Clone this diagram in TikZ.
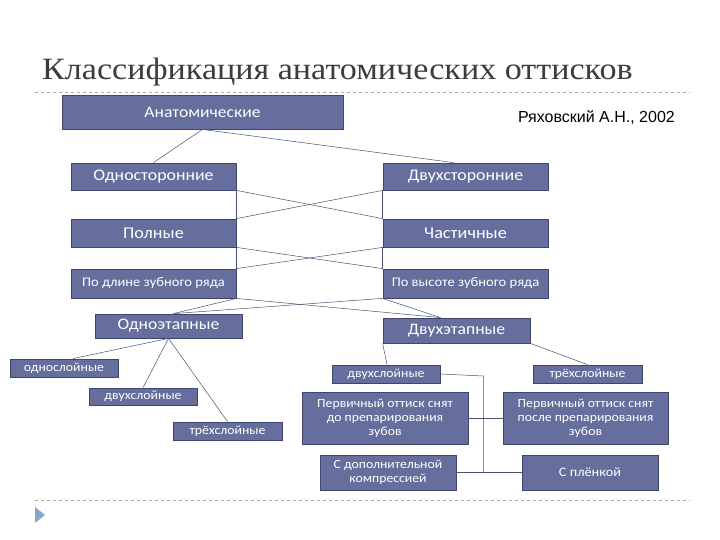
\documentclass[tikz,border=0pt]{standalone}
\usepackage{fontspec}
\setmainfont[FakeStretch=1.1]{Carlito}
\newfontfamily\titlefont[FakeStretch=1.1]{Liberation Serif}
\newfontfamily\authfont{Liberation Sans}
\usetikzlibrary{calc}
\definecolor{boxfill}{HTML}{656E9C}
\definecolor{boxline}{HTML}{3E4670}
\definecolor{linkgray}{HTML}{4A5070}
\definecolor{rulegray}{HTML}{A8A8A8}
\definecolor{titlegray}{HTML}{3C3C3C}
\definecolor{bullet}{HTML}{86A8CC}
\newcommand*{\fs}[1]{\fontsize{#1}{#1}\selectfont}
\tikzset{box/.style={draw=boxline,line width=0.8pt,fill=boxfill,text=white,
    inner sep=1pt,align=center,font=\fontsize{12.5}{14}\selectfont},
  link/.style={draw=linkgray,line width=0.5pt},
  rule/.style={draw=rulegray,dashed,line width=0.6pt}}

\begin{document}
\begin{tikzpicture}[x=1pt,y=-1pt]
\useasboundingbox (0,0) rectangle (720,540);

% Title and rules
\node[anchor=base west,inner sep=0pt,text=titlegray,
  font=\titlefont\fs{31}] (title) at (42,80)
  {Классификация анатомических оттисков};
\coordinate (R1) at (35,92);
\coordinate (R2) at (690,92);
\coordinate (R3) at (35,500);
\coordinate (R4) at (690,500);
\draw[rule] (R1) -- (R2);
\draw[rule] (R3) -- (R4);
\fill[bullet] (35,507) -- (45,515) -- (35,523) -- cycle;

\node[anchor=base east,inner sep=0pt,
  font=\authfont\fs{16}] (author) at (675,123)
  {Ряховский А.Н., 2002};

% Upper levels
\node[box,minimum width=281pt,minimum height=34pt,
  font=\fs{16}] (anat) at (202.5,112) {Анатомические};
\node[box,minimum width=165pt,minimum height=27pt,
  font=\fs{16.2}] (odnost) at (153.5,176.5) {Односторонние};
\node[box,minimum width=165pt,minimum height=27pt,
  font=\fs{16.2}] (dvust) at (465.5,176.5) {Двухсторонние};
\node[box,minimum width=165pt,minimum height=28pt,
  font=\fs{16.5}] (poln) at (153.5,233) {Полные};
\node[box,minimum width=165pt,minimum height=28pt,
  font=\fs{16.5}] (chast) at (465.5,233) {Частичные};
\node[box,minimum width=165pt,minimum height=29pt,
  font=\fs{13.2}] (podl) at (153.5,283.5) {По длине зубного ряда};
\node[box,minimum width=165pt,minimum height=29pt,
  font=\fs{13.2}] (podv) at (465.5,283.5) {По высоте зубного ряда};
\node[box,minimum width=147pt,minimum height=24pt,
  font=\fs{16}] (odnoet) at (168.5,326) {Одноэтапные};
\node[box,minimum width=147pt,minimum height=25pt,
  font=\fs{16}] (dvuet) at (456.5,330.5) {Двухэтапные};

% One-stage branch
\node[box,minimum width=108pt,minimum height=18pt] (odnosl) at (64,368)
  {однослойные};
\node[box,minimum width=108pt,minimum height=17pt] (dvusl) at (143,396.5)
  {двухслойные};
\node[box,minimum width=109pt,minimum height=18pt] (trehsl) at (227.5,431)
  {трёхслойные};

% Two-stage branch
\node[box,minimum width=108pt,minimum height=18pt] (dvuslB) at (386,374)
  {двухслойные};
\node[box,minimum width=109pt,minimum height=18pt] (trehslB) at (587.5,374)
  {трёхслойные};
\node[box,minimum width=166pt,minimum height=52pt] (pervdo) at (385,418)
  {Первичный оттиск снят\\до препарирования\\зубов};
\node[box,minimum width=165pt,minimum height=52pt] (pervposle) at (585.5,418)
  {Первичный оттиск снят\\после препарирования\\зубов};
\node[box,minimum width=136pt,minimum height=35pt] (sdop) at (388,472.5)
  {С дополнительной\\компрессией};
\node[box,minimum width=136pt,minimum height=35pt,font=\fs{13}] (splenk)
  at (590,472.5) {С плёнкой};

% Links
\draw[link] (anat.south) -- (odnost.north);
\draw[link] (anat.south) -- ([xshift=-12pt]dvust.north);

\draw[link] (odnost.south east) -- (poln.north east);
\draw[link] (dvust.south west) -- (chast.north west);
\draw[link] (odnost.south east) -- (chast.north west);
\draw[link] (dvust.south west) -- (poln.north east);

\draw[link] (poln.south east) -- (podl.north east);
\draw[link] (chast.south west) -- (podv.north west);
\draw[link] (poln.south east) -- (podv.north west);
\draw[link] (chast.south west) -- (podl.north east);

\draw[link] (podl.south east) -- ([xshift=5pt]odnoet.north);
\draw[link] (podv.south west) -- ([xshift=5pt]odnoet.north);
\draw[link] (podl.south east) -- ([xshift=-16pt]dvuet.north);
\draw[link] (podv.south west) -- ([xshift=-16pt]dvuet.north);

\draw[link] (odnoet.south) -- ([xshift=9pt]odnosl.north);
\draw[link] (odnoet.south) -- (dvusl.north);
\draw[link] (odnoet.south) -- (trehsl.north);

\draw[link] (dvuet.south west) -- ([xshift=1pt]dvuslB.north);
\draw[link] (dvuet.south east) -- (trehslB.north);

\draw[link] (dvuslB.east) -- ++(43,2) coordinate (bus)
  -- (bus |- sdop.east);
\draw[link] (pervdo.east) -- (pervposle.west);
\draw[link] (sdop.east) -- (splenk.west);

\end{tikzpicture}
\end{document}
